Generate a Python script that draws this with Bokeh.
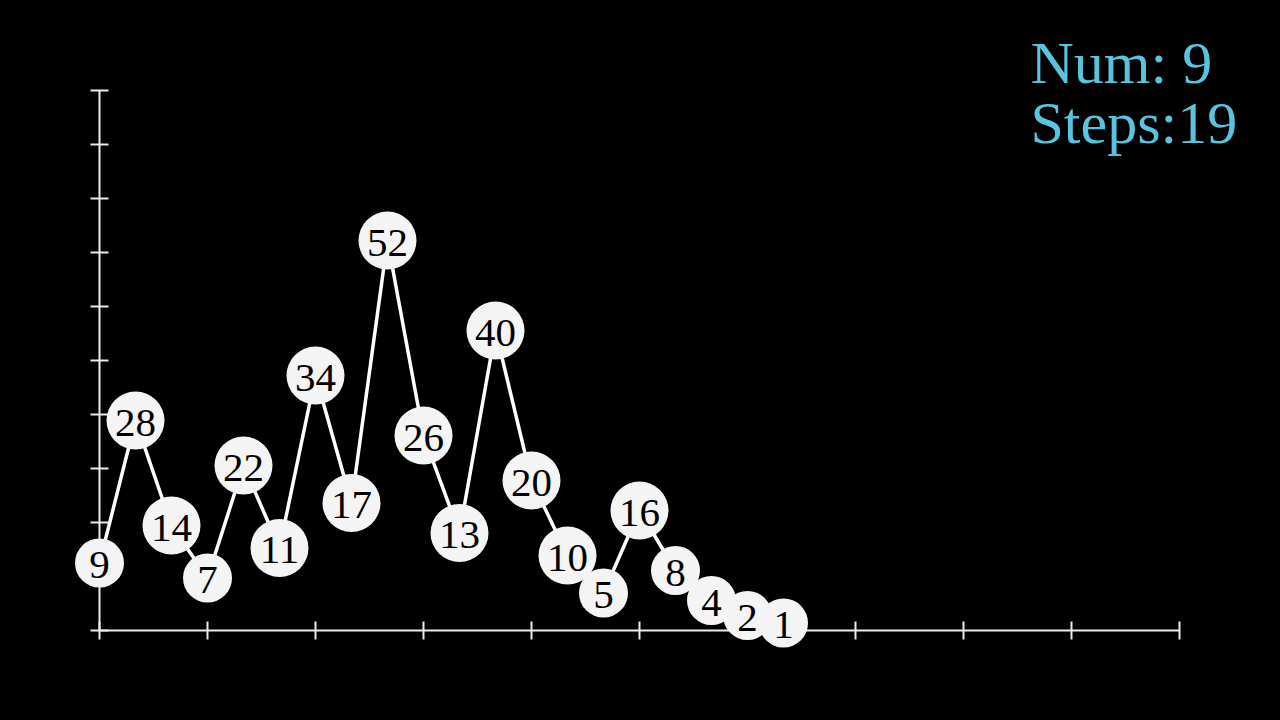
from bokeh.plotting import figure
from bokeh.embed import file_html
from bokeh.resources import INLINE
from bokeh.models import ColumnDataSource
from bokeh.core.properties import value

# ---- data (Collatz sequence of 9) ----
steps = list(range(20))
values = [9, 28, 14, 7, 22, 11, 34, 17, 52, 26, 13, 40, 20, 10, 5, 16, 8, 4, 2, 1]
labels = [str(v) for v in values]
x_ticks = [0, 3, 6, 9, 12, 15, 18, 21, 24, 27, 30]
y_ticks = [0, 7.2, 14.4, 21.6, 28.8, 36, 43.2, 50.4, 57.6, 64.8, 72]
title_lines = ["Num: 9", "Steps:19"]

W, H = 1280, 720
off = 0  # figure sits at page origin
# page px mapping: x0=99, 36 px / step ; y0=630, 7.5 px / unit
xpx, ypx = 36.0, 7.5
x0_page, y0_page = 99, 630
x_lo = (off - x0_page) / xpx
x_hi = (off + W - x0_page) / xpx
y_hi = (y0_page - off) / ypx
y_lo = (y0_page - off - H) / ypx

p = figure(width=W, height=H, x_range=(x_lo, x_hi), y_range=(y_lo, y_hi),
           x_axis_type=None, y_axis_type=None, min_border=0,
           toolbar_location=None, output_backend="svg")
p.background_fill_color = "black"
p.border_fill_color = "black"
p.outline_line_color = None
p.grid.visible = False

axis_col = "#ececec"
# axes lines
p.segment(x0=[0, 0], y0=[0, 0], x1=[x_ticks[-1], 0], y1=[0, y_ticks[-1]],
          line_color=axis_col, line_width=2)
# ticks (+-9 px)
tx = 9 / xpx
ty = 9 / ypx
p.segment(x0=x_ticks, x1=x_ticks, y0=[-ty] * len(x_ticks), y1=[ty] * len(x_ticks),
          line_color=axis_col, line_width=2)
p.segment(x0=[-tx] * len(y_ticks), x1=[tx] * len(y_ticks), y0=y_ticks, y1=y_ticks,
          line_color=axis_col, line_width=2)

src = ColumnDataSource(dict(x=steps, y=values, t=labels,
                            s=[58 if v >= 10 else 49 for v in values]))
p.line("x", "y", source=src, line_color="white", line_width=3.5)
p.scatter("x", "y", source=src, size="s", fill_color="#f4f4f4",
          line_color="#f4f4f4", line_width=0)
p.text("x", "y", text="t", source=src, text_font=value("Liberation Serif"),
       text_font_size="41px", text_color="black", text_align="center",
       text_baseline="middle", y_offset=2)

# title text, top right
tx0 = (1030 - x0_page) / xpx
ty1 = (y0_page - 85) / ypx
ty2 = (y0_page - 145) / ypx
p.text(x=[tx0, tx0], y=[ty1, ty2], text=title_lines,
       text_font=value("Liberation Serif"), text_font_size="60px",
       text_color="#58C4DD", text_align="left", text_baseline="alphabetic",
       y_offset=-23)

html = file_html(p, INLINE, "Collatz 9")
html = html.replace("<head>", "<head><style>html,body{background:#000;}</style>", 1)
open("out.html", "w").write(html)
